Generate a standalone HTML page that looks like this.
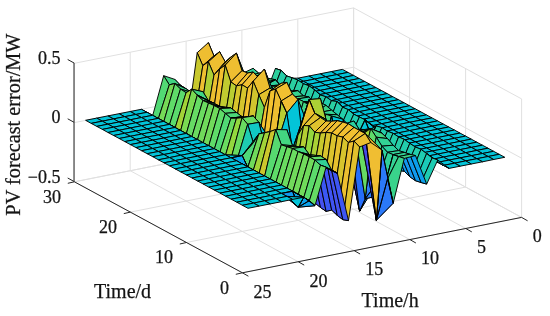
<!DOCTYPE html>
<html><head><meta charset="utf-8"><title>PV forecast error</title>
<style>
html,body{margin:0;padding:0;background:#fff}
body{width:550px;height:316px;overflow:hidden}
svg{display:block}
.g{stroke:#e0e0e0;stroke-width:1;fill:none}
.a{stroke:#262626;stroke-width:1;fill:none}
.s polygon{stroke:#000;stroke-width:0.95;stroke-linejoin:round}
.t text{font-family:"Liberation Serif","Times New Roman",serif;font-size:17px;fill:#141414;stroke:#141414;stroke-width:0.25px}
</style></head><body><svg width="550" height="316" viewBox="0 0 550 316"><g><line x1="521.6" y1="217.4" x2="353.6" y2="126.4" class="g"/><line x1="353.6" y1="126.4" x2="353.6" y2="7.9" class="g"/><line x1="465.8" y1="228.5" x2="297.8" y2="137.5" class="g"/><line x1="297.8" y1="137.5" x2="297.8" y2="19.0" class="g"/><line x1="409.9" y1="239.6" x2="241.9" y2="148.6" class="g"/><line x1="241.9" y1="148.6" x2="241.9" y2="30.1" class="g"/><line x1="354.1" y1="250.6" x2="186.1" y2="159.7" class="g"/><line x1="186.1" y1="159.7" x2="186.1" y2="41.2" class="g"/><line x1="298.2" y1="261.7" x2="130.2" y2="170.7" class="g"/><line x1="130.2" y1="170.7" x2="130.2" y2="52.2" class="g"/><line x1="242.4" y1="272.8" x2="74.4" y2="181.8" class="g"/><line x1="74.4" y1="181.8" x2="74.4" y2="63.3" class="g"/><line x1="521.6" y1="217.4" x2="242.4" y2="272.8" class="g"/><line x1="521.6" y1="217.4" x2="521.6" y2="98.9" class="g"/><line x1="465.6" y1="187.1" x2="186.4" y2="242.5" class="g"/><line x1="465.6" y1="187.1" x2="465.6" y2="68.6" class="g"/><line x1="409.6" y1="156.7" x2="130.4" y2="212.1" class="g"/><line x1="409.6" y1="156.7" x2="409.6" y2="38.2" class="g"/><line x1="353.6" y1="126.4" x2="74.4" y2="181.8" class="g"/><line x1="353.6" y1="126.4" x2="353.6" y2="7.9" class="g"/><line x1="353.6" y1="126.4" x2="74.4" y2="181.8" class="g"/><line x1="521.6" y1="217.4" x2="353.6" y2="126.4" class="g"/><line x1="353.6" y1="67.2" x2="74.4" y2="122.6" class="g"/><line x1="521.6" y1="158.2" x2="353.6" y2="67.2" class="g"/><line x1="353.6" y1="7.9" x2="74.4" y2="63.3" class="g"/><line x1="521.6" y1="98.9" x2="353.6" y2="7.9" class="g"/></g><g class="s"><polygon points="348.0,72.4 336.9,74.6 331.3,71.6 342.4,69.4" fill="#03c4d8"/><polygon points="336.9,74.6 325.7,76.8 320.1,73.8 331.3,71.6" fill="#03c4d8"/><polygon points="325.7,76.8 314.5,79.1 308.9,76.0 320.1,73.8" fill="#03c4d8"/><polygon points="314.5,79.1 303.4,81.3 297.8,78.2 308.9,76.0" fill="#03c4d8"/><polygon points="303.4,81.3 292.2,83.5 286.6,78.1 297.8,78.2" fill="#03c4d8"/><polygon points="292.2,83.5 281.0,70.3 275.4,68.5" fill="#03c4d8" stroke="none"/><polygon points="292.2,83.5 275.4,68.5 286.6,78.1" fill="#03c4d8" stroke="none"/><polygon points="292.2,83.5 281.0,70.3 275.4,68.5 286.6,78.1" fill="none"/><polygon points="281.0,70.3 269.9,99.5 264.3,97.8 275.4,68.5" fill="#2cd09d"/><polygon points="269.9,99.5 258.7,73.2 253.1,68.3 264.3,97.8" fill="#0c9eec"/><polygon points="258.7,73.2 247.5,76.4 241.9,73.7 253.1,68.3" fill="#31d197"/><polygon points="247.5,76.4 236.4,115.1 230.8,113.1 241.9,73.7" fill="#2ed09b"/><polygon points="236.4,115.1 225.2,87.1 219.6,75.1 230.8,113.1" fill="#2981f6"/><polygon points="225.2,87.1 214.0,55.9 208.4,42.6 219.6,75.1" fill="#1bcbb7"/><polygon points="214.0,55.9 202.8,65.7 197.2,52.7 208.4,42.6" fill="#eebe31"/><polygon points="202.8,65.7 191.7,136.6 186.1,133.6 197.2,52.7" fill="#c8c82d"/><polygon points="191.7,136.6 180.5,85.3 174.9,79.4 186.1,133.6" fill="#4054f2"/><polygon points="180.5,85.3 169.3,84.8 163.7,75.7 174.9,79.4" fill="#41d582"/><polygon points="169.3,84.8 158.2,119.2 152.6,115.9 163.7,75.7" fill="#52d974"/><polygon points="158.2,119.2 147.0,112.3 141.4,109.3 152.6,115.9" fill="#08a6e8"/><polygon points="147.0,112.3 135.8,114.5 130.2,111.5 141.4,109.3" fill="#03c4d8"/><polygon points="135.8,114.5 124.7,116.7 119.1,113.7 130.2,111.5" fill="#03c4d8"/><polygon points="124.7,116.7 113.5,118.9 107.9,115.9 119.1,113.7" fill="#03c4d8"/><polygon points="113.5,118.9 102.3,121.2 96.7,118.1 107.9,115.9" fill="#03c4d8"/><polygon points="102.3,121.2 91.2,123.4 85.6,120.3 96.7,118.1" fill="#03c4d8"/><polygon points="353.6,75.4 342.5,77.7 336.9,74.6 348.0,72.4" fill="#03c4d8"/><polygon points="342.5,77.7 331.3,79.9 325.7,76.8 336.9,74.6" fill="#03c4d8"/><polygon points="331.3,79.9 320.1,82.1 314.5,79.1 325.7,76.8" fill="#03c4d8"/><polygon points="320.1,82.1 309.0,84.3 303.4,81.3 314.5,79.1" fill="#03c4d8"/><polygon points="309.0,84.3 297.8,86.5 292.2,83.5 303.4,81.3" fill="#03c4d8"/><polygon points="297.8,86.5 286.6,75.9 281.0,70.3" fill="#03c4d8" stroke="none"/><polygon points="297.8,86.5 281.0,70.3 292.2,83.5" fill="#03c4d8" stroke="none"/><polygon points="297.8,86.5 286.6,75.9 281.0,70.3 292.2,83.5" fill="none"/><polygon points="286.6,75.9 275.5,100.5 269.9,99.5 281.0,70.3" fill="#25cea8"/><polygon points="275.5,100.5 264.3,72.6 258.7,73.2 269.9,99.5" fill="#09a5e9"/><polygon points="264.3,72.6 253.1,77.7 247.5,76.4 258.7,73.2" fill="#43d681"/><polygon points="253.1,77.7 242.0,116.5 236.4,115.1 247.5,76.4" fill="#33d294"/><polygon points="242.0,116.5 230.8,81.4 225.2,87.1 236.4,115.1" fill="#2387f4"/><polygon points="230.8,81.4 219.6,51.8 214.0,55.9 225.2,87.1" fill="#37d38f"/><polygon points="219.6,51.8 208.4,61.8 202.8,65.7 214.0,55.9" fill="#f2c230"/><polygon points="208.4,61.8 197.3,136.6 191.7,136.6 202.8,65.7" fill="#edbf31"/><polygon points="197.3,136.6 186.1,88.8 180.5,85.3 191.7,136.6" fill="#3959f4"/><polygon points="186.1,88.8 174.9,83.6 169.3,84.8" fill="#3fd585" stroke="none"/><polygon points="186.1,88.8 169.3,84.8 180.5,85.3" fill="#3fd585" stroke="none"/><polygon points="186.1,88.8 174.9,83.6 169.3,84.8 180.5,85.3" fill="none"/><polygon points="174.9,83.6 163.8,121.8 158.2,119.2 169.3,84.8" fill="#75da57"/><polygon points="163.8,121.8 152.6,115.3 147.0,112.3 158.2,119.2" fill="#08a8e8"/><polygon points="152.6,115.3 141.4,117.5 135.8,114.5 147.0,112.3" fill="#03c4d8"/><polygon points="141.4,117.5 130.3,119.8 124.7,116.7 135.8,114.5" fill="#03c4d8"/><polygon points="130.3,119.8 119.1,122.0 113.5,118.9 124.7,116.7" fill="#03c4d8"/><polygon points="119.1,122.0 107.9,124.2 102.3,121.2 113.5,118.9" fill="#03c4d8"/><polygon points="107.9,124.2 96.8,126.4 91.2,123.4 102.3,121.2" fill="#03c4d8"/><polygon points="359.2,78.5 348.1,80.7 342.5,77.7 353.6,75.4" fill="#03c4d8"/><polygon points="348.1,80.7 336.9,82.9 331.3,79.9 342.5,77.7" fill="#03c4d8"/><polygon points="336.9,82.9 325.7,85.1 320.1,82.1 331.3,79.9" fill="#03c4d8"/><polygon points="325.7,85.1 314.6,87.3 309.0,84.3 320.1,82.1" fill="#03c4d8"/><polygon points="314.6,87.3 303.4,89.6 297.8,86.5 309.0,84.3" fill="#03c4d8"/><polygon points="303.4,89.6 292.2,77.8 286.6,75.9 297.8,86.5" fill="#03c4d8"/><polygon points="292.2,77.8 281.1,106.6 275.5,100.5 286.6,75.9" fill="#28cfa4"/><polygon points="281.1,106.6 269.9,81.2 264.3,72.6 275.5,100.5" fill="#0f9bed"/><polygon points="269.9,81.2 258.7,76.9 253.1,77.7" fill="#2bd09f" stroke="none"/><polygon points="269.9,81.2 253.1,77.7 264.3,72.6" fill="#2bd09f" stroke="none"/><polygon points="269.9,81.2 258.7,76.9 253.1,77.7 264.3,72.6" fill="none"/><polygon points="258.7,76.9 247.6,118.6 242.0,116.5 253.1,77.7" fill="#48d77d"/><polygon points="247.6,118.6 236.4,93.2 230.8,81.4 242.0,116.5" fill="#208af3"/><polygon points="236.4,93.2 225.2,61.8 219.6,51.8 230.8,81.4" fill="#1bcbb7"/><polygon points="225.2,61.8 214.0,75.0 208.4,61.8 219.6,51.8" fill="#eebe31"/><polygon points="214.0,75.0 202.9,139.1 197.3,136.6 208.4,61.8" fill="#aed035"/><polygon points="202.9,139.1 191.7,92.5 186.1,88.8 197.3,136.6" fill="#385af4"/><polygon points="191.7,92.5 180.5,89.0 174.9,83.6 186.1,88.8" fill="#3bd488"/><polygon points="180.5,89.0 169.4,125.0 163.8,121.8 174.9,83.6" fill="#5fdc69"/><polygon points="169.4,125.0 158.2,118.4 152.6,115.3 163.8,121.8" fill="#08a7e8"/><polygon points="158.2,118.4 147.0,120.6 141.4,117.5 152.6,115.3" fill="#03c4d8"/><polygon points="147.0,120.6 135.9,122.8 130.3,119.8 141.4,117.5" fill="#03c4d8"/><polygon points="135.9,122.8 124.7,125.0 119.1,122.0 130.3,119.8" fill="#03c4d8"/><polygon points="124.7,125.0 113.5,127.2 107.9,124.2 119.1,122.0" fill="#03c4d8"/><polygon points="113.5,127.2 102.4,129.4 96.8,126.4 107.9,124.2" fill="#03c4d8"/><polygon points="364.8,81.5 353.7,83.7 348.1,80.7 359.2,78.5" fill="#03c4d8"/><polygon points="353.7,83.7 342.5,85.9 336.9,82.9 348.1,80.7" fill="#03c4d8"/><polygon points="342.5,85.9 331.3,88.2 325.7,85.1 336.9,82.9" fill="#03c4d8"/><polygon points="331.3,88.2 320.2,90.4 314.6,87.3 325.7,85.1" fill="#03c4d8"/><polygon points="320.2,90.4 309.0,92.6 303.4,89.6 314.6,87.3" fill="#03c4d8"/><polygon points="309.0,92.6 297.8,80.1 292.2,77.8 303.4,89.6" fill="#03c4d8"/><polygon points="297.8,80.1 286.7,108.9 281.1,106.6 292.2,77.8" fill="#2acfa0"/><polygon points="286.7,108.9 275.5,79.7 269.9,81.2 281.1,106.6" fill="#0d9dec"/><polygon points="275.5,79.7 264.3,85.9 258.7,76.9" fill="#3dd486" stroke="none"/><polygon points="275.5,79.7 258.7,76.9 269.9,81.2" fill="#3dd486" stroke="none"/><polygon points="275.5,79.7 264.3,85.9 258.7,76.9 269.9,81.2" fill="none"/><polygon points="264.3,85.9 253.2,121.0 247.6,118.6 258.7,76.9" fill="#2dd09d"/><polygon points="253.2,121.0 242.0,84.6 236.4,93.2 247.6,118.6" fill="#1e8cf3"/><polygon points="242.0,84.6 230.8,57.1 225.2,61.8 236.4,93.2" fill="#47d67e"/><polygon points="230.8,57.1 219.6,69.1 214.0,75.0 225.2,61.8" fill="#f3c22f"/><polygon points="219.6,69.1 208.5,145.6 202.9,139.1 214.0,75.0" fill="#ebbf30"/><polygon points="208.5,145.6 197.3,95.9 191.7,92.5 202.9,139.1" fill="#4054f2"/><polygon points="197.3,95.9 186.1,92.7 180.5,89.0 191.7,92.5" fill="#39d38b"/><polygon points="186.1,92.7 175.0,128.3 169.4,125.0 180.5,89.0" fill="#5bdb6d"/><polygon points="175.0,128.3 163.8,121.4 158.2,118.4 169.4,125.0" fill="#08a6e8"/><polygon points="163.8,121.4 152.6,123.6 147.0,120.6 158.2,118.4" fill="#03c4d8"/><polygon points="152.6,123.6 141.5,125.8 135.9,122.8 147.0,120.6" fill="#03c4d8"/><polygon points="141.5,125.8 130.3,128.0 124.7,125.0 135.9,122.8" fill="#03c4d8"/><polygon points="130.3,128.0 119.1,130.3 113.5,127.2 124.7,125.0" fill="#03c4d8"/><polygon points="119.1,130.3 108.0,132.5 102.4,129.4 113.5,127.2" fill="#03c4d8"/><polygon points="370.4,84.5 359.3,86.8 353.7,83.7 364.8,81.5" fill="#03c4d8"/><polygon points="359.3,86.8 348.1,89.0 342.5,85.9 353.7,83.7" fill="#03c4d8"/><polygon points="348.1,89.0 336.9,91.2 331.3,88.2 342.5,85.9" fill="#03c4d8"/><polygon points="336.9,91.2 325.8,93.4 320.2,90.4 331.3,88.2" fill="#03c4d8"/><polygon points="325.8,93.4 314.6,95.6 309.0,92.6 320.2,90.4" fill="#03c4d8"/><polygon points="314.6,95.6 303.4,83.7 297.8,80.1 309.0,92.6" fill="#03c4d8"/><polygon points="303.4,83.7 292.3,112.7 286.7,108.9 297.8,80.1" fill="#29cfa3"/><polygon points="292.3,112.7 281.1,86.3 275.5,79.7 286.7,108.9" fill="#0f9bed"/><polygon points="281.1,86.3 269.9,85.9 264.3,85.9" fill="#2ed09b" stroke="none"/><polygon points="281.1,86.3 264.3,85.9 275.5,79.7" fill="#2ed09b" stroke="none"/><polygon points="281.1,86.3 269.9,85.9 264.3,85.9 275.5,79.7" fill="none"/><polygon points="269.9,85.9 258.8,123.6 253.2,121.0 264.3,85.9" fill="#37d38d"/><polygon points="258.8,123.6 247.6,82.2 242.0,84.6 253.2,121.0" fill="#1d8df2"/><polygon points="247.6,82.2 236.4,53.1 230.8,57.1 242.0,84.6" fill="#70da5b"/><polygon points="236.4,53.1 225.2,65.2 219.6,69.1 230.8,57.1" fill="#f6c72c"/><polygon points="225.2,65.2 214.1,144.4 208.5,145.6 219.6,69.1" fill="#f2c030"/><polygon points="214.1,144.4 202.9,91.7 197.3,95.9 208.5,145.6" fill="#325ef6"/><polygon points="202.9,91.7 191.7,89.2 186.1,92.7 197.3,95.9" fill="#6adb60"/><polygon points="191.7,89.2 180.6,130.9 175.0,128.3 186.1,92.7" fill="#a2d338"/><polygon points="180.6,130.9 169.4,124.4 163.8,121.4 175.0,128.3" fill="#08a8e8"/><polygon points="169.4,124.4 158.2,126.6 152.6,123.6 163.8,121.4" fill="#03c4d8"/><polygon points="158.2,126.6 147.1,128.9 141.5,125.8 152.6,123.6" fill="#03c4d8"/><polygon points="147.1,128.9 135.9,131.1 130.3,128.0 141.5,125.8" fill="#03c4d8"/><polygon points="135.9,131.1 124.7,133.3 119.1,130.3 130.3,128.0" fill="#03c4d8"/><polygon points="124.7,133.3 113.6,135.5 108.0,132.5 119.1,130.3" fill="#03c4d8"/><polygon points="376.0,87.6 364.9,89.8 359.3,86.8 370.4,84.5" fill="#03c4d8"/><polygon points="364.9,89.8 353.7,92.0 348.1,89.0 359.3,86.8" fill="#03c4d8"/><polygon points="353.7,92.0 342.5,94.2 336.9,91.2 348.1,89.0" fill="#03c4d8"/><polygon points="342.5,94.2 331.4,96.4 325.8,93.4 336.9,91.2" fill="#03c4d8"/><polygon points="331.4,96.4 320.2,98.7 314.6,95.6 325.8,93.4" fill="#03c4d8"/><polygon points="320.2,98.7 309.0,85.8 303.4,83.7 314.6,95.6" fill="#03c4d8"/><polygon points="309.0,85.8 297.9,113.1 292.3,112.7 303.4,83.7" fill="#2bd09f"/><polygon points="297.9,113.1 286.7,84.3 281.1,86.3 292.3,112.7" fill="#09a3ea"/><polygon points="286.7,84.3 275.5,90.2 269.9,85.9" fill="#45d67f" stroke="none"/><polygon points="286.7,84.3 269.9,85.9 281.1,86.3" fill="#45d67f" stroke="none"/><polygon points="286.7,84.3 275.5,90.2 269.9,85.9 281.1,86.3" fill="none"/><polygon points="275.5,90.2 264.4,132.0 258.8,123.6 269.9,85.9" fill="#32d195"/><polygon points="264.4,132.0 253.2,100.8 247.6,82.2" fill="#2d7cf8" stroke="none"/><polygon points="264.4,132.0 247.6,82.2 258.8,123.6" fill="#2d7cf8" stroke="none"/><polygon points="264.4,132.0 253.2,100.8 247.6,82.2 258.8,123.6" fill="none"/><polygon points="253.2,100.8 242.0,70.7 236.4,53.1 247.6,82.2" fill="#1fcdb0"/><polygon points="242.0,70.7 230.8,81.9 225.2,65.2 236.4,53.1" fill="#eebe31"/><polygon points="230.8,81.9 219.7,151.2 214.1,144.4 225.2,65.2" fill="#c0cb30"/><polygon points="219.7,151.2 208.5,100.8 202.9,91.7 214.1,144.4" fill="#3f55f2"/><polygon points="208.5,100.8 197.3,95.2 191.7,89.2 202.9,91.7" fill="#40d584"/><polygon points="197.3,95.2 186.2,134.2 180.6,130.9 191.7,89.2" fill="#7ada52"/><polygon points="186.2,134.2 175.0,127.5 169.4,124.4" fill="#08a7e8" stroke="none"/><polygon points="186.2,134.2 169.4,124.4 180.6,130.9" fill="#08a7e8" stroke="none"/><polygon points="186.2,134.2 175.0,127.5 169.4,124.4 180.6,130.9" fill="none"/><polygon points="175.0,127.5 163.8,129.7 158.2,126.6 169.4,124.4" fill="#03c4d8"/><polygon points="163.8,129.7 152.7,131.9 147.1,128.9 158.2,126.6" fill="#03c4d8"/><polygon points="152.7,131.9 141.5,134.1 135.9,131.1 147.1,128.9" fill="#03c4d8"/><polygon points="141.5,134.1 130.3,136.3 124.7,133.3 135.9,131.1" fill="#03c4d8"/><polygon points="130.3,136.3 119.2,138.5 113.6,135.5 124.7,133.3" fill="#03c4d8"/><polygon points="381.6,90.6 370.5,92.8 364.9,89.8 376.0,87.6" fill="#03c4d8"/><polygon points="370.5,92.8 359.3,95.0 353.7,92.0 364.9,89.8" fill="#03c4d8"/><polygon points="359.3,95.0 348.1,97.3 342.5,94.2 353.7,92.0" fill="#03c4d8"/><polygon points="348.1,97.3 337.0,99.5 331.4,96.4 342.5,94.2" fill="#03c4d8"/><polygon points="337.0,99.5 325.8,101.7 320.2,98.7 331.4,96.4" fill="#03c4d8"/><polygon points="325.8,101.7 314.6,89.9 309.0,85.8 320.2,98.7" fill="#03c4d8"/><polygon points="314.6,89.9 303.5,118.6 297.9,113.1 309.0,85.8" fill="#28cfa3"/><polygon points="303.5,118.6 292.3,92.8 286.7,84.3 297.9,113.1" fill="#0f9bed"/><polygon points="292.3,92.8 281.1,91.6 275.5,90.2 286.7,84.3" fill="#2dd09d"/><polygon points="281.1,91.6 270.0,130.7 264.4,132.0 275.5,90.2" fill="#3ad38a"/><polygon points="270.0,130.7 258.8,104.7 253.2,100.8 264.4,132.0" fill="#208af3"/><polygon points="258.8,104.7 247.6,73.0 242.0,70.7 253.2,100.8" fill="#1dccb4"/><polygon points="247.6,73.0 236.4,85.8 230.8,81.9 242.0,70.7" fill="#f0be32"/><polygon points="236.4,85.8 225.3,150.7 219.7,151.2 230.8,81.9" fill="#b9cd32"/><polygon points="225.3,150.7 214.1,103.4 208.5,100.8 219.7,151.2" fill="#345df5"/><polygon points="214.1,103.4 202.9,100.5 197.3,95.2" fill="#42d582" stroke="none"/><polygon points="214.1,103.4 197.3,95.2 208.5,100.8" fill="#42d582" stroke="none"/><polygon points="214.1,103.4 202.9,100.5 197.3,95.2 208.5,100.8" fill="none"/><polygon points="202.9,100.5 191.8,137.0 186.2,134.2 197.3,95.2" fill="#66db64"/><polygon points="191.8,137.0 180.6,130.5 175.0,127.5 186.2,134.2" fill="#08a7e8"/><polygon points="180.6,130.5 169.4,132.7 163.8,129.7 175.0,127.5" fill="#03c4d8"/><polygon points="169.4,132.7 158.3,134.9 152.7,131.9 163.8,129.7" fill="#03c4d8"/><polygon points="158.3,134.9 147.1,137.1 141.5,134.1 152.7,131.9" fill="#03c4d8"/><polygon points="147.1,137.1 135.9,139.4 130.3,136.3 141.5,134.1" fill="#03c4d8"/><polygon points="135.9,139.4 124.8,141.6 119.2,138.5 130.3,136.3" fill="#03c4d8"/><polygon points="387.2,93.6 376.1,95.9 370.5,92.8 381.6,90.6" fill="#03c4d8"/><polygon points="376.1,95.9 364.9,98.1 359.3,95.0 370.5,92.8" fill="#03c4d8"/><polygon points="364.9,98.1 353.7,100.3 348.1,97.3 359.3,95.0" fill="#03c4d8"/><polygon points="353.7,100.3 342.6,102.5 337.0,99.5 348.1,97.3" fill="#03c4d8"/><polygon points="342.6,102.5 331.4,104.7 325.8,101.7 337.0,99.5" fill="#03c4d8"/><polygon points="331.4,104.7 320.2,94.9 314.6,89.9" fill="#03c4d8" stroke="none"/><polygon points="331.4,104.7 314.6,89.9 325.8,101.7" fill="#03c4d8" stroke="none"/><polygon points="331.4,104.7 320.2,94.9 314.6,89.9 325.8,101.7" fill="none"/><polygon points="320.2,94.9 309.1,120.8 303.5,118.6 314.6,89.9" fill="#22cdac"/><polygon points="309.1,120.8 297.9,90.7 292.3,92.8 303.5,118.6" fill="#0c9eec"/><polygon points="297.9,90.7 286.7,92.7 281.1,91.6" fill="#43d681" stroke="none"/><polygon points="297.9,90.7 281.1,91.6 292.3,92.8" fill="#43d681" stroke="none"/><polygon points="297.9,90.7 286.7,92.7 281.1,91.6 292.3,92.8" fill="none"/><polygon points="286.7,92.7 275.6,136.1 270.0,130.7 281.1,91.6" fill="#45d680"/><polygon points="275.6,136.1 264.4,99.7 258.8,104.7 270.0,130.7" fill="#2882f6"/><polygon points="264.4,99.7 253.2,72.0 247.6,73.0 258.8,104.7" fill="#36d38f"/><polygon points="253.2,72.0 242.0,84.8 236.4,85.8 247.6,73.0" fill="#f2c030"/><polygon points="242.0,84.8 230.9,159.2 225.3,150.7 236.4,85.8" fill="#d7c42d"/><polygon points="230.9,159.2 219.7,106.2 214.1,103.4 225.3,150.7" fill="#4452f1"/><polygon points="219.7,106.2 208.5,103.0 202.9,100.5 214.1,103.4" fill="#43d681"/><polygon points="208.5,103.0 197.4,139.9 191.8,137.0 202.9,100.5" fill="#6adb60"/><polygon points="197.4,139.9 186.2,133.5 180.6,130.5 191.8,137.0" fill="#08a8e7"/><polygon points="186.2,133.5 175.0,135.7 169.4,132.7 180.6,130.5" fill="#03c4d8"/><polygon points="175.0,135.7 163.9,138.0 158.3,134.9 169.4,132.7" fill="#03c4d8"/><polygon points="163.9,138.0 152.7,140.2 147.1,137.1 158.3,134.9" fill="#03c4d8"/><polygon points="152.7,140.2 141.5,142.4 135.9,139.4 147.1,137.1" fill="#03c4d8"/><polygon points="141.5,142.4 130.4,144.6 124.8,141.6 135.9,139.4" fill="#03c4d8"/><polygon points="392.8,96.7 381.7,98.9 376.1,95.9 387.2,93.6" fill="#03c4d8"/><polygon points="381.7,98.9 370.5,101.1 364.9,98.1 376.1,95.9" fill="#03c4d8"/><polygon points="370.5,101.1 359.3,103.3 353.7,100.3 364.9,98.1" fill="#03c4d8"/><polygon points="359.3,103.3 348.2,105.5 342.6,102.5 353.7,100.3" fill="#03c4d8"/><polygon points="348.2,105.5 337.0,107.8 331.4,104.7 342.6,102.5" fill="#03c4d8"/><polygon points="337.0,107.8 325.8,96.7 320.2,94.9 331.4,104.7" fill="#03c4d8"/><polygon points="325.8,96.7 314.7,122.1 309.1,120.8 320.2,94.9" fill="#26cea7"/><polygon points="314.7,122.1 303.5,95.9 297.9,90.7 309.1,120.8" fill="#09a3ea"/><polygon points="303.5,95.9 292.3,96.9 286.7,92.7 297.9,90.7" fill="#37d38e"/><polygon points="292.3,96.9 281.2,136.0 275.6,136.1 286.7,92.7" fill="#3ed485"/><polygon points="281.2,136.0 270.0,106.7 264.4,99.7 275.6,136.1" fill="#1e8cf2"/><polygon points="270.0,106.7 258.8,78.2 253.2,72.0 264.4,99.7" fill="#29cfa2"/><polygon points="258.8,78.2 247.6,88.1 242.0,84.8 253.2,72.0" fill="#f0be32"/><polygon points="247.6,88.1 236.5,162.8 230.9,159.2 242.0,84.8" fill="#d5c42d"/><polygon points="236.5,162.8 225.3,108.0 219.7,106.2 230.9,159.2" fill="#4551f0"/><polygon points="225.3,108.0 214.1,105.5 208.5,103.0 219.7,106.2" fill="#4ad77b"/><polygon points="214.1,105.5 203.0,143.7 197.4,139.9 208.5,103.0" fill="#70da5b"/><polygon points="203.0,143.7 191.8,136.6 186.2,133.5" fill="#08a5e9" stroke="none"/><polygon points="203.0,143.7 186.2,133.5 197.4,139.9" fill="#08a5e9" stroke="none"/><polygon points="203.0,143.7 191.8,136.6 186.2,133.5 197.4,139.9" fill="none"/><polygon points="191.8,136.6 180.6,138.8 175.0,135.7 186.2,133.5" fill="#03c4d8"/><polygon points="180.6,138.8 169.5,141.0 163.9,138.0 175.0,135.7" fill="#03c4d8"/><polygon points="169.5,141.0 158.3,143.2 152.7,140.2 163.9,138.0" fill="#03c4d8"/><polygon points="158.3,143.2 147.1,145.4 141.5,142.4 152.7,140.2" fill="#03c4d8"/><polygon points="147.1,145.4 136.0,147.6 130.4,144.6 141.5,142.4" fill="#03c4d8"/><polygon points="398.4,99.7 387.3,101.9 381.7,98.9 392.8,96.7" fill="#03c4d8"/><polygon points="387.3,101.9 376.1,104.1 370.5,101.1 381.7,98.9" fill="#03c4d8"/><polygon points="376.1,104.1 364.9,106.4 359.3,103.3 370.5,101.1" fill="#03c4d8"/><polygon points="364.9,106.4 353.8,108.6 348.2,105.5 359.3,103.3" fill="#03c4d8"/><polygon points="353.8,108.6 342.6,110.8 337.0,107.8 348.2,105.5" fill="#03c4d8"/><polygon points="342.6,110.8 331.4,100.7 325.8,96.7 337.0,107.8" fill="#03c4d8"/><polygon points="331.4,100.7 320.3,127.9 314.7,122.1 325.8,96.7" fill="#23ceab"/><polygon points="320.3,127.9 309.1,97.0 303.5,95.9 314.7,122.1" fill="#109aed"/><polygon points="309.1,97.0 297.9,98.9 292.3,96.9 303.5,95.9" fill="#42d582"/><polygon points="297.9,98.9 286.8,142.0 281.2,136.0 292.3,96.9" fill="#44d680"/><polygon points="286.8,142.0 275.6,97.6 270.0,106.7 281.2,136.0" fill="#2882f6"/><polygon points="275.6,97.6 264.4,69.1 258.8,78.2 270.0,106.7" fill="#6edb5d"/><polygon points="264.4,69.1 253.2,81.2 247.6,88.1 258.8,78.2" fill="#f5c62d"/><polygon points="253.2,81.2 242.1,165.1 236.5,162.8 247.6,88.1" fill="#f1c031"/><polygon points="242.1,165.1 230.9,108.0 225.3,108.0 236.5,162.8" fill="#4352f1"/><polygon points="230.9,108.0 219.7,108.5 214.1,105.5" fill="#5fdc69" stroke="none"/><polygon points="230.9,108.0 214.1,105.5 225.3,108.0" fill="#5fdc69" stroke="none"/><polygon points="230.9,108.0 219.7,108.5 214.1,105.5 225.3,108.0" fill="none"/><polygon points="219.7,108.5 208.6,146.5 203.0,143.7 214.1,105.5" fill="#70da5b"/><polygon points="208.6,146.5 197.4,139.6 191.8,136.6 203.0,143.7" fill="#08a6e8"/><polygon points="197.4,139.6 186.2,141.8 180.6,138.8 191.8,136.6" fill="#03c4d8"/><polygon points="186.2,141.8 175.1,144.0 169.5,141.0 180.6,138.8" fill="#03c4d8"/><polygon points="175.1,144.0 163.9,146.2 158.3,143.2 169.5,141.0" fill="#03c4d8"/><polygon points="163.9,146.2 152.7,148.5 147.1,145.4 158.3,143.2" fill="#03c4d8"/><polygon points="152.7,148.5 141.6,150.7 136.0,147.6 147.1,145.4" fill="#03c4d8"/><polygon points="404.0,102.7 392.9,105.0 387.3,101.9 398.4,99.7" fill="#03c4d8"/><polygon points="392.9,105.0 381.7,107.2 376.1,104.1 387.3,101.9" fill="#03c4d8"/><polygon points="381.7,107.2 370.5,109.4 364.9,106.4 376.1,104.1" fill="#03c4d8"/><polygon points="370.5,109.4 359.4,111.6 353.8,108.6 364.9,106.4" fill="#03c4d8"/><polygon points="359.4,111.6 348.2,113.8 342.6,110.8 353.8,108.6" fill="#03c4d8"/><polygon points="348.2,113.8 337.0,101.5 331.4,100.7 342.6,110.8" fill="#03c4d8"/><polygon points="337.0,101.5 325.9,131.6 320.3,127.9 331.4,100.7" fill="#2acfa1"/><polygon points="325.9,131.6 314.7,104.9 309.1,97.0 320.3,127.9" fill="#1298ee"/><polygon points="314.7,104.9 303.5,101.5 297.9,98.9 309.1,97.0" fill="#2dd09d"/><polygon points="303.5,101.5 292.4,138.8 286.8,142.0 297.9,98.9" fill="#46d67e"/><polygon points="292.4,138.8 281.2,116.3 275.6,97.6" fill="#1397ee" stroke="none"/><polygon points="292.4,138.8 275.6,97.6 286.8,142.0" fill="#1397ee" stroke="none"/><polygon points="292.4,138.8 281.2,116.3 275.6,97.6 286.8,142.0" fill="none"/><polygon points="281.2,116.3 270.0,88.0 264.4,69.1 275.6,97.6" fill="#1eccb1"/><polygon points="270.0,88.0 258.8,94.7 253.2,81.2 264.4,69.1" fill="#ebbf30"/><polygon points="258.8,94.7 247.7,168.8 242.1,165.1 253.2,81.2" fill="#d1c52d"/><polygon points="247.7,168.8 236.5,112.5 230.9,108.0 242.1,165.1" fill="#4551f0"/><polygon points="236.5,112.5 225.3,113.3 219.7,108.5 230.9,108.0" fill="#55da72"/><polygon points="225.3,113.3 214.2,149.7 208.6,146.5 219.7,108.5" fill="#5fdc69"/><polygon points="214.2,149.7 203.0,142.6 197.4,139.6 208.6,146.5" fill="#08a5e9"/><polygon points="203.0,142.6 191.8,144.8 186.2,141.8 197.4,139.6" fill="#03c4d8"/><polygon points="191.8,144.8 180.7,147.1 175.1,144.0 186.2,141.8" fill="#03c4d8"/><polygon points="180.7,147.1 169.5,149.3 163.9,146.2 175.1,144.0" fill="#03c4d8"/><polygon points="169.5,149.3 158.3,151.5 152.7,148.5 163.9,146.2" fill="#03c4d8"/><polygon points="158.3,151.5 147.2,153.7 141.6,150.7 152.7,148.5" fill="#03c4d8"/><polygon points="409.6,105.8 398.5,108.0 392.9,105.0 404.0,102.7" fill="#03c4d8"/><polygon points="398.5,108.0 387.3,110.2 381.7,107.2 392.9,105.0" fill="#03c4d8"/><polygon points="387.3,110.2 376.1,112.4 370.5,109.4 381.7,107.2" fill="#03c4d8"/><polygon points="376.1,112.4 365.0,114.6 359.4,111.6 370.5,109.4" fill="#03c4d8"/><polygon points="365.0,114.6 353.8,116.9 348.2,113.8 359.4,111.6" fill="#03c4d8"/><polygon points="353.8,116.9 342.6,107.2 337.0,101.5" fill="#03c4d8" stroke="none"/><polygon points="353.8,116.9 337.0,101.5 348.2,113.8" fill="#03c4d8" stroke="none"/><polygon points="353.8,116.9 342.6,107.2 337.0,101.5 348.2,113.8" fill="none"/><polygon points="342.6,107.2 331.5,133.8 325.9,131.6 337.0,101.5" fill="#22cdac"/><polygon points="331.5,133.8 320.3,102.5 314.7,104.9 325.9,131.6" fill="#0f9bed"/><polygon points="320.3,102.5 309.1,105.5 303.5,101.5" fill="#45d67f" stroke="none"/><polygon points="320.3,102.5 303.5,101.5 314.7,104.9" fill="#45d67f" stroke="none"/><polygon points="320.3,102.5 309.1,105.5 303.5,101.5 314.7,104.9" fill="none"/><polygon points="309.1,105.5 298.0,147.5 292.4,138.8 303.5,101.5" fill="#41d583"/><polygon points="298.0,147.5 286.8,122.2 281.2,116.3 292.4,138.8" fill="#2684f5"/><polygon points="286.8,122.2 275.6,93.3 270.0,88.0 281.2,116.3" fill="#16cabd"/><polygon points="275.6,93.3 264.4,107.5 258.8,94.7 270.0,88.0" fill="#e1c12d"/><polygon points="264.4,107.5 253.3,169.8 247.7,168.8 258.8,94.7" fill="#74da58"/><polygon points="253.3,169.8 242.1,116.7 236.5,112.5 247.7,168.8" fill="#4054f2"/><polygon points="242.1,116.7 230.9,118.2 225.3,113.3 236.5,112.5" fill="#4cd879"/><polygon points="230.9,118.2 219.8,152.4 214.2,149.7 225.3,113.3" fill="#51d975"/><polygon points="219.8,152.4 208.6,145.7 203.0,142.6 214.2,149.7" fill="#08a7e8"/><polygon points="208.6,145.7 197.4,147.9 191.8,144.8 203.0,142.6" fill="#03c4d8"/><polygon points="197.4,147.9 186.3,150.1 180.7,147.1 191.8,144.8" fill="#03c4d8"/><polygon points="186.3,150.1 175.1,152.3 169.5,149.3 180.7,147.1" fill="#03c4d8"/><polygon points="175.1,152.3 163.9,154.5 158.3,151.5 169.5,149.3" fill="#03c4d8"/><polygon points="163.9,154.5 152.8,156.7 147.2,153.7 158.3,151.5" fill="#03c4d8"/><polygon points="415.2,108.8 404.1,111.0 398.5,108.0 409.6,105.8" fill="#03c4d8"/><polygon points="404.1,111.0 392.9,113.2 387.3,110.2 398.5,108.0" fill="#03c4d8"/><polygon points="392.9,113.2 381.7,115.5 376.1,112.4 387.3,110.2" fill="#03c4d8"/><polygon points="381.7,115.5 370.6,117.7 365.0,114.6 376.1,112.4" fill="#03c4d8"/><polygon points="370.6,117.7 359.4,119.9 353.8,116.9 365.0,114.6" fill="#03c4d8"/><polygon points="359.4,119.9 348.2,109.6 342.6,107.2 353.8,116.9" fill="#03c4d8"/><polygon points="348.2,109.6 337.1,134.9 331.5,133.8 342.6,107.2" fill="#24ceaa"/><polygon points="337.1,134.9 325.9,105.3 320.3,102.5 331.5,133.8" fill="#0aa1eb"/><polygon points="325.9,105.3 314.7,113.0 309.1,105.5 320.3,102.5" fill="#46d67e"/><polygon points="314.7,113.0 303.6,151.1 298.0,147.5 309.1,105.5" fill="#2dd09c"/><polygon points="303.6,151.1 292.4,109.6 286.8,122.2 298.0,147.5" fill="#2882f6"/><polygon points="292.4,109.6 281.2,83.3 275.6,93.3 286.8,122.2" fill="#56da71"/><polygon points="281.2,83.3 270.0,90.9 264.4,107.5 275.6,93.3" fill="#f3c32f"/><polygon points="270.0,90.9 258.9,175.0 253.3,169.8 264.4,107.5" fill="#f1bf31"/><polygon points="258.9,175.0 247.7,118.4 242.1,116.7 253.3,169.8" fill="#4551f0"/><polygon points="247.7,118.4 236.5,118.2 230.9,118.2" fill="#56da71" stroke="none"/><polygon points="247.7,118.4 230.9,118.2 242.1,116.7" fill="#56da71" stroke="none"/><polygon points="247.7,118.4 236.5,118.2 230.9,118.2 242.1,116.7" fill="none"/><polygon points="236.5,118.2 225.4,155.6 219.8,152.4 230.9,118.2" fill="#6adb60"/><polygon points="225.4,155.6 214.2,148.7 208.6,145.7 219.8,152.4" fill="#08a6e8"/><polygon points="214.2,148.7 203.0,150.9 197.4,147.9 208.6,145.7" fill="#03c4d8"/><polygon points="203.0,150.9 191.9,153.1 186.3,150.1 197.4,147.9" fill="#03c4d8"/><polygon points="191.9,153.1 180.7,155.3 175.1,152.3 186.3,150.1" fill="#03c4d8"/><polygon points="180.7,155.3 169.5,157.6 163.9,154.5 175.1,152.3" fill="#03c4d8"/><polygon points="169.5,157.6 158.4,159.8 152.8,156.7 163.9,154.5" fill="#03c4d8"/><polygon points="420.8,111.8 409.7,114.1 404.1,111.0 415.2,108.8" fill="#03c4d8"/><polygon points="409.7,114.1 398.5,116.3 392.9,113.2 404.1,111.0" fill="#03c4d8"/><polygon points="398.5,116.3 387.3,118.5 381.7,115.5 392.9,113.2" fill="#03c4d8"/><polygon points="387.3,118.5 376.2,120.7 370.6,117.7 381.7,115.5" fill="#03c4d8"/><polygon points="376.2,120.7 365.0,122.9 359.4,119.9 370.6,117.7" fill="#03c4d8"/><polygon points="365.0,122.9 353.8,114.2 348.2,109.6" fill="#03c4d8" stroke="none"/><polygon points="365.0,122.9 348.2,109.6 359.4,119.9" fill="#03c4d8" stroke="none"/><polygon points="365.0,122.9 353.8,114.2 348.2,109.6 359.4,119.9" fill="none"/><polygon points="353.8,114.2 342.7,138.5 337.1,134.9 348.2,109.6" fill="#1fccb1"/><polygon points="342.7,138.5 331.5,110.1 325.9,105.3 337.1,134.9" fill="#0b9feb"/><polygon points="331.5,110.1 320.3,112.4 314.7,113.0 325.9,105.3" fill="#3dd487"/><polygon points="320.3,112.4 309.2,156.1 303.6,151.1 314.7,113.0" fill="#3cd487"/><polygon points="309.2,156.1 298.0,113.2 292.4,109.6 303.6,151.1" fill="#2d7df8"/><polygon points="298.0,113.2 286.8,82.4 281.2,83.3 292.4,109.6" fill="#51d975"/><polygon points="286.8,82.4 275.6,89.0 270.0,90.9 281.2,83.3" fill="#f5c52d"/><polygon points="275.6,89.0 264.5,171.6 258.9,175.0 270.0,90.9" fill="#f3c32f"/><polygon points="264.5,171.6 253.3,116.0 247.7,118.4 258.9,175.0" fill="#315ff6"/><polygon points="253.3,116.0 242.1,117.7 236.5,118.2" fill="#8bd845" stroke="none"/><polygon points="253.3,116.0 236.5,118.2 247.7,118.4" fill="#8bd845" stroke="none"/><polygon points="253.3,116.0 242.1,117.7 236.5,118.2 247.7,118.4" fill="none"/><polygon points="242.1,117.7 231.0,158.7 225.4,155.6 236.5,118.2" fill="#93d73e"/><polygon points="231.0,158.7 219.8,151.7 214.2,148.7 225.4,155.6" fill="#08a6e9"/><polygon points="219.8,151.7 208.6,153.9 203.0,150.9 214.2,148.7" fill="#03c4d8"/><polygon points="208.6,153.9 197.5,156.2 191.9,153.1 203.0,150.9" fill="#03c4d8"/><polygon points="197.5,156.2 186.3,158.4 180.7,155.3 191.9,153.1" fill="#03c4d8"/><polygon points="186.3,158.4 175.1,160.6 169.5,157.6 180.7,155.3" fill="#03c4d8"/><polygon points="175.1,160.6 164.0,162.8 158.4,159.8 169.5,157.6" fill="#03c4d8"/><polygon points="426.4,114.9 415.3,117.1 409.7,114.1 420.8,111.8" fill="#03c4d8"/><polygon points="415.3,117.1 404.1,119.3 398.5,116.3 409.7,114.1" fill="#03c4d8"/><polygon points="404.1,119.3 392.9,121.5 387.3,118.5 398.5,116.3" fill="#03c4d8"/><polygon points="392.9,121.5 381.8,123.7 376.2,120.7 387.3,118.5" fill="#03c4d8"/><polygon points="381.8,123.7 370.6,126.0 365.0,122.9 376.2,120.7" fill="#03c4d8"/><polygon points="370.6,126.0 359.4,117.0 353.8,114.2 365.0,122.9" fill="#03c4d8"/><polygon points="359.4,117.0 348.3,142.2 342.7,138.5 353.8,114.2" fill="#1fcdb0"/><polygon points="348.3,142.2 337.1,114.7 331.5,110.1 342.7,138.5" fill="#0d9dec"/><polygon points="337.1,114.7 325.9,114.3 320.3,112.4 331.5,110.1" fill="#34d292"/><polygon points="325.9,114.3 314.8,157.4 309.2,156.1 320.3,112.4" fill="#42d582"/><polygon points="314.8,157.4 303.6,123.6 298.0,113.2 309.2,156.1" fill="#2882f6"/><polygon points="303.6,123.6 292.4,94.1 286.8,82.4 298.0,113.2" fill="#2dd09c"/><polygon points="292.4,94.1 281.2,101.0 275.6,89.0 286.8,82.4" fill="#f1c031"/><polygon points="281.2,101.0 270.1,177.2 264.5,171.6 275.6,89.0" fill="#edbe31"/><polygon points="270.1,177.2 258.9,122.4 253.3,116.0 264.5,171.6" fill="#3c57f3"/><polygon points="258.9,122.4 247.7,124.3 242.1,117.7 253.3,116.0" fill="#67db63"/><polygon points="247.7,124.3 236.6,161.5 231.0,158.7 242.1,117.7" fill="#6adb60"/><polygon points="236.6,161.5 225.4,154.8 219.8,151.7 231.0,158.7" fill="#08a7e8"/><polygon points="225.4,154.8 214.2,157.0 208.6,153.9 219.8,151.7" fill="#03c4d8"/><polygon points="214.2,157.0 203.1,159.2 197.5,156.2 208.6,153.9" fill="#03c4d8"/><polygon points="203.1,159.2 191.9,161.4 186.3,158.4 197.5,156.2" fill="#03c4d8"/><polygon points="191.9,161.4 180.7,163.6 175.1,160.6 186.3,158.4" fill="#03c4d8"/><polygon points="180.7,163.6 169.6,165.8 164.0,162.8 175.1,160.6" fill="#03c4d8"/><polygon points="432.0,117.9 420.9,120.1 415.3,117.1 426.4,114.9" fill="#03c4d8"/><polygon points="420.9,120.1 409.7,122.3 404.1,119.3 415.3,117.1" fill="#03c4d8"/><polygon points="409.7,122.3 398.5,124.6 392.9,121.5 404.1,119.3" fill="#03c4d8"/><polygon points="398.5,124.6 387.4,126.8 381.8,123.7 392.9,121.5" fill="#03c4d8"/><polygon points="387.4,126.8 376.2,129.0 370.6,126.0 381.8,123.7" fill="#03c4d8"/><polygon points="376.2,129.0 365.0,119.8 359.4,117.0 370.6,126.0" fill="#03c4d8"/><polygon points="365.0,119.8 353.9,143.2 348.3,142.2 359.4,117.0" fill="#20cdaf"/><polygon points="353.9,143.2 342.7,119.2 337.1,114.7 348.3,142.2" fill="#09a4e9"/><polygon points="342.7,119.2 331.5,116.0 325.9,114.3 337.1,114.7" fill="#2fd199"/><polygon points="331.5,116.0 320.4,159.1 314.8,157.4 325.9,114.3" fill="#4ad77b"/><polygon points="320.4,159.1 309.2,128.8 303.6,123.6 314.8,157.4" fill="#2486f5"/><polygon points="309.2,128.8 298.0,99.5 292.4,94.1 303.6,123.6" fill="#26cea6"/><polygon points="298.0,99.5 286.8,113.1 281.2,101.0 292.4,94.1" fill="#f0be32"/><polygon points="286.8,113.1 275.7,148.9 270.1,177.2" fill="#b9cd32" stroke="none"/><polygon points="286.8,113.1 270.1,177.2 281.2,101.0" fill="#b9cd32" stroke="none"/><polygon points="286.8,113.1 275.7,148.9 270.1,177.2 281.2,101.0" fill="none"/><polygon points="275.7,148.9 264.5,145.2 258.9,122.4" fill="#03c4d8" stroke="none"/><polygon points="275.7,148.9 258.9,122.4 270.1,177.2" fill="#03c4d8" stroke="none"/><polygon points="275.7,148.9 264.5,145.2 258.9,122.4 270.1,177.2" fill="none"/><polygon points="264.5,145.2 253.3,142.7 247.7,124.3 258.9,122.4" fill="#11c8c4"/><polygon points="253.3,142.7 242.2,155.6 236.6,161.5 247.7,124.3" fill="#1eccb2"/><polygon points="242.2,155.6 231.0,157.8 225.4,154.8" fill="#03c4d8" stroke="none"/><polygon points="242.2,155.6 225.4,154.8 236.6,161.5" fill="#03c4d8" stroke="none"/><polygon points="242.2,155.6 231.0,157.8 225.4,154.8 236.6,161.5" fill="none"/><polygon points="231.0,157.8 219.8,160.0 214.2,157.0 225.4,154.8" fill="#03c4d8"/><polygon points="219.8,160.0 208.7,162.2 203.1,159.2 214.2,157.0" fill="#03c4d8"/><polygon points="208.7,162.2 197.5,164.4 191.9,161.4 203.1,159.2" fill="#03c4d8"/><polygon points="197.5,164.4 186.3,166.7 180.7,163.6 191.9,161.4" fill="#03c4d8"/><polygon points="186.3,166.7 175.2,168.9 169.6,165.8 180.7,163.6" fill="#03c4d8"/><polygon points="437.6,120.9 426.5,123.2 420.9,120.1 432.0,117.9" fill="#03c4d8"/><polygon points="426.5,123.2 415.3,125.4 409.7,122.3 420.9,120.1" fill="#03c4d8"/><polygon points="415.3,125.4 404.1,127.6 398.5,124.6 409.7,122.3" fill="#03c4d8"/><polygon points="404.1,127.6 393.0,129.8 387.4,126.8 398.5,124.6" fill="#03c4d8"/><polygon points="393.0,129.8 381.8,132.0 376.2,129.0 387.4,126.8" fill="#03c4d8"/><polygon points="381.8,132.0 370.6,134.2 365.0,119.8" fill="#03c4d8" stroke="none"/><polygon points="381.8,132.0 365.0,119.8 376.2,129.0" fill="#03c4d8" stroke="none"/><polygon points="381.8,132.0 370.6,134.2 365.0,119.8 376.2,129.0" fill="none"/><polygon points="370.6,134.2 359.5,136.4 353.9,143.2" fill="#03c4d8" stroke="none"/><polygon points="370.6,134.2 353.9,143.2 365.0,119.8" fill="#03c4d8" stroke="none"/><polygon points="370.6,134.2 359.5,136.4 353.9,143.2 365.0,119.8" fill="none"/><polygon points="359.5,136.4 348.3,138.7 342.7,119.2" fill="#03c4d8" stroke="none"/><polygon points="359.5,136.4 342.7,119.2 353.9,143.2" fill="#03c4d8" stroke="none"/><polygon points="359.5,136.4 348.3,138.7 342.7,119.2 353.9,143.2" fill="none"/><polygon points="348.3,138.7 337.1,140.9 331.5,116.0 342.7,119.2" fill="#03c4d8"/><polygon points="337.1,140.9 326.0,143.1 320.4,159.1" fill="#03c4d8" stroke="none"/><polygon points="337.1,140.9 320.4,159.1 331.5,116.0" fill="#03c4d8" stroke="none"/><polygon points="337.1,140.9 326.0,143.1 320.4,159.1 331.5,116.0" fill="none"/><polygon points="326.0,143.1 314.8,145.3 309.2,128.8" fill="#03c4d8" stroke="none"/><polygon points="326.0,143.1 309.2,128.8 320.4,159.1" fill="#03c4d8" stroke="none"/><polygon points="326.0,143.1 314.8,145.3 309.2,128.8 320.4,159.1" fill="none"/><polygon points="314.8,145.3 303.6,147.5 298.0,99.5 309.2,128.8" fill="#03c4d8"/><polygon points="303.6,147.5 292.4,149.7 286.8,113.1 298.0,99.5" fill="#03c4d8"/><polygon points="292.4,149.7 281.3,182.4 275.7,148.9 286.8,113.1" fill="#03c4d8"/><polygon points="281.3,182.4 270.1,132.3 264.5,145.2" fill="#3a59f3" stroke="none"/><polygon points="281.3,182.4 264.5,145.2 275.7,148.9" fill="#3a59f3" stroke="none"/><polygon points="281.3,182.4 270.1,132.3 264.5,145.2 275.7,148.9" fill="none"/><polygon points="270.1,132.3 258.9,133.9 253.3,142.7 264.5,145.2" fill="#4ad77b"/><polygon points="258.9,133.9 247.8,167.5 242.2,155.6" fill="#4ed878" stroke="none"/><polygon points="258.9,133.9 242.2,155.6 253.3,142.7" fill="#4ed878" stroke="none"/><polygon points="258.9,133.9 247.8,167.5 242.2,155.6 253.3,142.7" fill="none"/><polygon points="247.8,167.5 236.6,160.8 231.0,157.8" fill="#08a7e8" stroke="none"/><polygon points="247.8,167.5 231.0,157.8 242.2,155.6" fill="#08a7e8" stroke="none"/><polygon points="247.8,167.5 236.6,160.8 231.0,157.8 242.2,155.6" fill="none"/><polygon points="236.6,160.8 225.4,163.0 219.8,160.0 231.0,157.8" fill="#03c4d8"/><polygon points="225.4,163.0 214.3,165.3 208.7,162.2 219.8,160.0" fill="#03c4d8"/><polygon points="214.3,165.3 203.1,167.5 197.5,164.4 208.7,162.2" fill="#03c4d8"/><polygon points="203.1,167.5 191.9,169.7 186.3,166.7 197.5,164.4" fill="#03c4d8"/><polygon points="191.9,169.7 180.8,171.9 175.2,168.9 186.3,166.7" fill="#03c4d8"/><polygon points="443.2,124.0 432.1,126.2 426.5,123.2 437.6,120.9" fill="#03c4d8"/><polygon points="432.1,126.2 420.9,128.4 415.3,125.4 426.5,123.2" fill="#03c4d8"/><polygon points="420.9,128.4 409.7,130.6 404.1,127.6 415.3,125.4" fill="#03c4d8"/><polygon points="409.7,130.6 398.6,132.8 393.0,129.8 404.1,127.6" fill="#03c4d8"/><polygon points="398.6,132.8 387.4,135.1 381.8,132.0 393.0,129.8" fill="#03c4d8"/><polygon points="387.4,135.1 376.2,125.9 370.6,134.2" fill="#03c4d8" stroke="none"/><polygon points="387.4,135.1 370.6,134.2 381.8,132.0" fill="#03c4d8" stroke="none"/><polygon points="387.4,135.1 376.2,125.9 370.6,134.2 381.8,132.0" fill="none"/><polygon points="376.2,125.9 365.1,151.7 359.5,136.4" fill="#20cdaf" stroke="none"/><polygon points="376.2,125.9 359.5,136.4 370.6,134.2" fill="#20cdaf" stroke="none"/><polygon points="376.2,125.9 365.1,151.7 359.5,136.4 370.6,134.2" fill="none"/><polygon points="365.1,151.7 353.9,121.0 348.3,138.7" fill="#0e9ced" stroke="none"/><polygon points="365.1,151.7 348.3,138.7 359.5,136.4" fill="#0e9ced" stroke="none"/><polygon points="365.1,151.7 353.9,121.0 348.3,138.7 359.5,136.4" fill="none"/><polygon points="353.9,121.0 342.7,124.7 337.1,140.9 348.3,138.7" fill="#43d681"/><polygon points="342.7,124.7 331.6,193.5 326.0,143.1" fill="#3bd488" stroke="none"/><polygon points="342.7,124.7 326.0,143.1 337.1,140.9" fill="#3bd488" stroke="none"/><polygon points="342.7,124.7 331.6,193.5 326.0,143.1 337.1,140.9" fill="none"/><polygon points="331.6,193.5 320.4,98.6 314.8,145.3" fill="#413ed0" stroke="none"/><polygon points="331.6,193.5 314.8,145.3 326.0,143.1" fill="#413ed0" stroke="none"/><polygon points="331.6,193.5 320.4,98.6 314.8,145.3 326.0,143.1" fill="none"/><polygon points="320.4,98.6 309.2,99.6 303.6,147.5 314.8,145.3" fill="#f2c130"/><polygon points="309.2,99.6 298.0,135.0 292.4,149.7" fill="#f3c22f" stroke="none"/><polygon points="309.2,99.6 292.4,149.7 303.6,147.5" fill="#f3c22f" stroke="none"/><polygon points="309.2,99.6 298.0,135.0 292.4,149.7 303.6,147.5" fill="none"/><polygon points="298.0,135.0 286.9,188.6 281.3,182.4 292.4,149.7" fill="#33d294"/><polygon points="286.9,188.6 275.7,133.7 270.1,132.3 281.3,182.4" fill="#4153f1"/><polygon points="275.7,133.7 264.5,132.8 258.9,133.9" fill="#55da71" stroke="none"/><polygon points="275.7,133.7 258.9,133.9 270.1,132.3" fill="#55da71" stroke="none"/><polygon points="275.7,133.7 264.5,132.8 258.9,133.9 270.1,132.3" fill="none"/><polygon points="264.5,132.8 253.4,170.1 247.8,167.5 258.9,133.9" fill="#70da5b"/><polygon points="253.4,170.1 242.2,163.9 236.6,160.8 247.8,167.5" fill="#08a9e7"/><polygon points="242.2,163.9 231.0,166.1 225.4,163.0 236.6,160.8" fill="#03c4d8"/><polygon points="231.0,166.1 219.9,168.3 214.3,165.3 225.4,163.0" fill="#03c4d8"/><polygon points="219.9,168.3 208.7,170.5 203.1,167.5 214.3,165.3" fill="#03c4d8"/><polygon points="208.7,170.5 197.5,172.7 191.9,169.7 203.1,167.5" fill="#03c4d8"/><polygon points="197.5,172.7 186.4,174.9 180.8,171.9 191.9,169.7" fill="#03c4d8"/><polygon points="448.8,127.0 437.7,129.2 432.1,126.2 443.2,124.0" fill="#03c4d8"/><polygon points="437.7,129.2 426.5,131.4 420.9,128.4 432.1,126.2" fill="#03c4d8"/><polygon points="426.5,131.4 415.3,133.7 409.7,130.6 420.9,128.4" fill="#03c4d8"/><polygon points="415.3,133.7 404.2,135.9 398.6,132.8 409.7,130.6" fill="#03c4d8"/><polygon points="404.2,135.9 393.0,138.1 387.4,135.1 398.6,132.8" fill="#03c4d8"/><polygon points="393.0,138.1 381.8,127.6 376.2,125.9 387.4,135.1" fill="#03c4d8"/><polygon points="381.8,127.6 370.7,155.1 365.1,151.7 376.2,125.9" fill="#24cea9"/><polygon points="370.7,155.1 359.5,129.9 353.9,121.0 365.1,151.7" fill="#0f9bed"/><polygon points="359.5,129.9 348.3,129.4 342.7,124.7 353.9,121.0" fill="#2bd0a0"/><polygon points="348.3,129.4 337.2,170.8 331.6,193.5" fill="#33d294" stroke="none"/><polygon points="348.3,129.4 331.6,193.5 342.7,124.7" fill="#33d294" stroke="none"/><polygon points="348.3,129.4 337.2,170.8 331.6,193.5 342.7,124.7" fill="none"/><polygon points="337.2,170.8 326.0,119.4 320.4,98.6 331.6,193.5" fill="#2c7ef8"/><polygon points="326.0,119.4 314.8,113.3 309.2,99.6 320.4,98.6" fill="#acd035"/><polygon points="314.8,113.3 303.6,125.5 298.0,135.0" fill="#e8bf2e" stroke="none"/><polygon points="314.8,113.3 298.0,135.0 309.2,99.6" fill="#e8bf2e" stroke="none"/><polygon points="314.8,113.3 303.6,125.5 298.0,135.0 309.2,99.6" fill="none"/><polygon points="303.6,125.5 292.5,187.6 286.9,188.6 298.0,135.0" fill="#9dd53a"/><polygon points="292.5,187.6 281.3,135.9 275.7,133.7 286.9,188.6" fill="#375af4"/><polygon points="281.3,135.9 270.1,131.6 264.5,132.8" fill="#5bdb6d" stroke="none"/><polygon points="281.3,135.9 264.5,132.8 275.7,133.7" fill="#5bdb6d" stroke="none"/><polygon points="281.3,135.9 270.1,131.6 264.5,132.8 275.7,133.7" fill="none"/><polygon points="270.1,131.6 259.0,173.7 253.4,170.1 264.5,132.8" fill="#a2d338"/><polygon points="259.0,173.7 247.8,166.9 242.2,163.9" fill="#08a6e8" stroke="none"/><polygon points="259.0,173.7 242.2,163.9 253.4,170.1" fill="#08a6e8" stroke="none"/><polygon points="259.0,173.7 247.8,166.9 242.2,163.9 253.4,170.1" fill="none"/><polygon points="247.8,166.9 236.6,169.1 231.0,166.1 242.2,163.9" fill="#03c4d8"/><polygon points="236.6,169.1 225.5,171.3 219.9,168.3 231.0,166.1" fill="#03c4d8"/><polygon points="225.5,171.3 214.3,173.5 208.7,170.5 219.9,168.3" fill="#03c4d8"/><polygon points="214.3,173.5 203.1,175.8 197.5,172.7 208.7,170.5" fill="#03c4d8"/><polygon points="203.1,175.8 192.0,178.0 186.4,174.9 197.5,172.7" fill="#03c4d8"/><polygon points="454.4,130.0 443.3,132.3 437.7,129.2 448.8,127.0" fill="#03c4d8"/><polygon points="443.3,132.3 432.1,134.5 426.5,131.4 437.7,129.2" fill="#03c4d8"/><polygon points="432.1,134.5 420.9,136.7 415.3,133.7 426.5,131.4" fill="#03c4d8"/><polygon points="420.9,136.7 409.8,138.9 404.2,135.9 415.3,133.7" fill="#03c4d8"/><polygon points="409.8,138.9 398.6,141.1 393.0,138.1 404.2,135.9" fill="#03c4d8"/><polygon points="398.6,141.1 387.4,131.2 381.8,127.6 393.0,138.1" fill="#03c4d8"/><polygon points="387.4,131.2 376.3,156.6 370.7,155.1 381.8,127.6" fill="#23cdab"/><polygon points="376.3,156.6 365.1,129.5 359.5,129.9 370.7,155.1" fill="#0b9feb"/><polygon points="365.1,129.5 353.9,132.3 348.3,129.4" fill="#36d290" stroke="none"/><polygon points="365.1,129.5 348.3,129.4 359.5,129.9" fill="#36d290" stroke="none"/><polygon points="365.1,129.5 353.9,132.3 348.3,129.4 359.5,129.9" fill="none"/><polygon points="353.9,132.3 342.8,170.6 337.2,170.8 348.3,129.4" fill="#33d294"/><polygon points="342.8,170.6 331.6,135.4 326.0,119.4 337.2,170.8" fill="#2288f4"/><polygon points="331.6,135.4 320.4,117.5 314.8,113.3" fill="#3ad38a" stroke="none"/><polygon points="331.6,135.4 314.8,113.3 326.0,119.4" fill="#3ad38a" stroke="none"/><polygon points="331.6,135.4 320.4,117.5 314.8,113.3 326.0,119.4" fill="none"/><polygon points="320.4,117.5 309.2,125.8 303.6,125.5 314.8,113.3" fill="#e1c12d"/><polygon points="309.2,125.8 298.1,195.2 292.5,187.6 303.6,125.5" fill="#b4ce33"/><polygon points="298.1,195.2 286.9,129.8 281.3,135.9 292.5,187.6" fill="#4352f1"/><polygon points="286.9,129.8 275.7,129.5 270.1,131.6 281.3,135.9" fill="#b8cd32"/><polygon points="275.7,129.5 264.6,176.5 259.0,173.7 270.1,131.6" fill="#cbc72d"/><polygon points="264.6,176.5 253.4,169.9 247.8,166.9 259.0,173.7" fill="#08a7e8"/><polygon points="253.4,169.9 242.2,172.1 236.6,169.1 247.8,166.9" fill="#03c4d8"/><polygon points="242.2,172.1 231.1,174.4 225.5,171.3 236.6,169.1" fill="#03c4d8"/><polygon points="231.1,174.4 219.9,176.6 214.3,173.5 225.5,171.3" fill="#03c4d8"/><polygon points="219.9,176.6 208.7,178.8 203.1,175.8 214.3,173.5" fill="#03c4d8"/><polygon points="208.7,178.8 197.6,181.0 192.0,178.0 203.1,175.8" fill="#03c4d8"/><polygon points="460.0,133.1 448.9,135.3 443.3,132.3 454.4,130.0" fill="#03c4d8"/><polygon points="448.9,135.3 437.7,137.5 432.1,134.5 443.3,132.3" fill="#03c4d8"/><polygon points="437.7,137.5 426.5,139.7 420.9,136.7 432.1,134.5" fill="#03c4d8"/><polygon points="426.5,139.7 415.4,141.9 409.8,138.9 420.9,136.7" fill="#03c4d8"/><polygon points="415.4,141.9 404.2,144.1 398.6,141.1 409.8,138.9" fill="#03c4d8"/><polygon points="404.2,144.1 393.0,133.3 387.4,131.2 398.6,141.1" fill="#03c4d8"/><polygon points="393.0,133.3 381.9,159.3 376.3,156.6 387.4,131.2" fill="#25cea7"/><polygon points="381.9,159.3 370.7,128.6 365.1,129.5 376.3,156.6" fill="#0aa0eb"/><polygon points="370.7,128.6 359.5,132.9 353.9,132.3 365.1,129.5" fill="#4cd87a"/><polygon points="359.5,132.9 348.4,176.1 342.8,170.6 353.9,132.3" fill="#40d583"/><polygon points="348.4,176.1 337.2,138.7 331.6,135.4 342.8,170.6" fill="#2a80f7"/><polygon points="337.2,138.7 326.0,121.0 320.4,117.5 331.6,135.4" fill="#39d38c"/><polygon points="326.0,121.0 314.8,132.2 309.2,125.8 320.4,117.5" fill="#dec22d"/><polygon points="314.8,132.2 303.7,194.4 298.1,195.2 309.2,125.8" fill="#94d73e"/><polygon points="303.7,194.4 292.5,145.7 286.9,129.8 298.1,195.2" fill="#3a59f4"/><polygon points="292.5,145.7 281.3,144.8 275.7,129.5 286.9,129.8" fill="#43d681"/><polygon points="281.3,144.8 270.2,179.7 264.6,176.5 275.7,129.5" fill="#56da70"/><polygon points="270.2,179.7 259.0,173.0 253.4,169.9 264.6,176.5" fill="#08a7e8"/><polygon points="259.0,173.0 247.8,175.2 242.2,172.1 253.4,169.9" fill="#03c4d8"/><polygon points="247.8,175.2 236.7,177.4 231.1,174.4 242.2,172.1" fill="#03c4d8"/><polygon points="236.7,177.4 225.5,179.6 219.9,176.6 231.1,174.4" fill="#03c4d8"/><polygon points="225.5,179.6 214.3,181.8 208.7,178.8 219.9,176.6" fill="#03c4d8"/><polygon points="214.3,181.8 203.2,184.0 197.6,181.0 208.7,178.8" fill="#03c4d8"/><polygon points="465.6,136.1 454.5,138.3 448.9,135.3 460.0,133.1" fill="#03c4d8"/><polygon points="454.5,138.3 443.3,140.5 437.7,137.5 448.9,135.3" fill="#03c4d8"/><polygon points="443.3,140.5 432.1,142.8 426.5,139.7 437.7,137.5" fill="#03c4d8"/><polygon points="432.1,142.8 421.0,145.0 415.4,141.9 426.5,139.7" fill="#03c4d8"/><polygon points="421.0,145.0 409.8,147.2 404.2,144.1 415.4,141.9" fill="#03c4d8"/><polygon points="409.8,147.2 398.6,136.9 393.0,133.3 404.2,144.1" fill="#03c4d8"/><polygon points="398.6,136.9 387.5,165.7 381.9,159.3 393.0,133.3" fill="#24ceaa"/><polygon points="387.5,165.7 376.3,131.3 370.7,128.6 381.9,159.3" fill="#1496ef"/><polygon points="376.3,131.3 365.1,132.3 359.5,132.9" fill="#4ed878" stroke="none"/><polygon points="376.3,131.3 359.5,132.9 370.7,128.6" fill="#4ed878" stroke="none"/><polygon points="376.3,131.3 365.1,132.3 359.5,132.9 370.7,128.6" fill="none"/><polygon points="365.1,132.3 354.0,177.3 348.4,176.1 359.5,132.9" fill="#56da70"/><polygon points="354.0,177.3 342.8,137.2 337.2,138.7 348.4,176.1" fill="#2486f5"/><polygon points="342.8,137.2 331.6,121.2 326.0,121.0 337.2,138.7" fill="#53d973"/><polygon points="331.6,121.2 320.4,133.1 314.8,132.2 326.0,121.0" fill="#ebbf30"/><polygon points="320.4,133.1 309.3,195.9 303.7,194.4 314.8,132.2" fill="#aad136"/><polygon points="309.3,195.9 298.1,146.6 292.5,145.7 303.7,194.4" fill="#315ff6"/><polygon points="298.1,146.6 286.9,146.7 281.3,144.8 292.5,145.7" fill="#4fd877"/><polygon points="286.9,146.7 275.8,182.8 270.2,179.7 281.3,144.8" fill="#5fdc69"/><polygon points="275.8,182.8 264.6,176.0 259.0,173.0 270.2,179.7" fill="#08a6e8"/><polygon points="264.6,176.0 253.4,178.2 247.8,175.2 259.0,173.0" fill="#03c4d8"/><polygon points="253.4,178.2 242.3,180.4 236.7,177.4 247.8,175.2" fill="#03c4d8"/><polygon points="242.3,180.4 231.1,182.6 225.5,179.6 236.7,177.4" fill="#03c4d8"/><polygon points="231.1,182.6 219.9,184.9 214.3,181.8 225.5,179.6" fill="#03c4d8"/><polygon points="219.9,184.9 208.8,187.1 203.2,184.0 214.3,181.8" fill="#03c4d8"/><polygon points="471.2,139.1 460.1,141.4 454.5,138.3 465.6,136.1" fill="#03c4d8"/><polygon points="460.1,141.4 448.9,143.6 443.3,140.5 454.5,138.3" fill="#03c4d8"/><polygon points="448.9,143.6 437.7,145.8 432.1,142.8 443.3,140.5" fill="#03c4d8"/><polygon points="437.7,145.8 426.6,148.0 421.0,145.0 432.1,142.8" fill="#03c4d8"/><polygon points="426.6,148.0 415.4,150.2 409.8,147.2 421.0,145.0" fill="#03c4d8"/><polygon points="415.4,150.2 404.2,139.3 398.6,136.9 409.8,147.2" fill="#03c4d8"/><polygon points="404.2,139.3 393.1,165.8 387.5,165.7 398.6,136.9" fill="#26cea7"/><polygon points="393.1,165.8 381.9,133.2 376.3,131.3 387.5,165.7" fill="#0b9feb"/><polygon points="381.9,133.2 370.7,128.6 365.1,132.3" fill="#56da70" stroke="none"/><polygon points="381.9,133.2 365.1,132.3 376.3,131.3" fill="#56da70" stroke="none"/><polygon points="381.9,133.2 370.7,128.6 365.1,132.3 376.3,131.3" fill="none"/><polygon points="370.7,128.6 359.6,176.6 354.0,177.3 365.1,132.3" fill="#9ed53a"/><polygon points="359.6,176.6 348.4,135.3 342.8,137.2 354.0,177.3" fill="#1892f0"/><polygon points="348.4,135.3 337.2,120.7 331.6,121.2 342.8,137.2" fill="#80d94e"/><polygon points="337.2,120.7 326.0,132.4 320.4,133.1 331.6,121.2" fill="#f0be32"/><polygon points="326.0,132.4 314.9,202.9 309.3,195.9 320.4,133.1" fill="#c8c82d"/><polygon points="314.9,202.9 303.7,146.9 298.1,146.6 309.3,195.9" fill="#3f55f2"/><polygon points="303.7,146.9 292.5,148.5 286.9,146.7 298.1,146.6" fill="#65db64"/><polygon points="292.5,148.5 281.4,185.5 275.8,182.8 286.9,146.7" fill="#6adb60"/><polygon points="281.4,185.5 270.2,179.0 264.6,176.0 275.8,182.8" fill="#08a8e8"/><polygon points="270.2,179.0 259.0,181.2 253.4,178.2 264.6,176.0" fill="#03c4d8"/><polygon points="259.0,181.2 247.9,183.5 242.3,180.4 253.4,178.2" fill="#03c4d8"/><polygon points="247.9,183.5 236.7,185.7 231.1,182.6 242.3,180.4" fill="#03c4d8"/><polygon points="236.7,185.7 225.5,187.9 219.9,184.9 231.1,182.6" fill="#03c4d8"/><polygon points="225.5,187.9 214.4,190.1 208.8,187.1 219.9,184.9" fill="#03c4d8"/><polygon points="476.8,142.2 465.7,144.4 460.1,141.4 471.2,139.1" fill="#03c4d8"/><polygon points="465.7,144.4 454.5,146.6 448.9,143.6 460.1,141.4" fill="#03c4d8"/><polygon points="454.5,146.6 443.3,148.8 437.7,145.8 448.9,143.6" fill="#03c4d8"/><polygon points="443.3,148.8 432.2,151.0 426.6,148.0 437.7,145.8" fill="#03c4d8"/><polygon points="432.2,151.0 421.0,153.2 415.4,150.2 426.6,148.0" fill="#03c4d8"/><polygon points="421.0,153.2 409.8,143.4 404.2,139.3 415.4,150.2" fill="#03c4d8"/><polygon points="409.8,143.4 398.7,170.5 393.1,165.8 404.2,139.3" fill="#22cdab"/><polygon points="398.7,170.5 387.5,138.6 381.9,133.2 393.1,165.8" fill="#109aed"/><polygon points="387.5,138.6 376.3,137.2 370.7,128.6 381.9,133.2" fill="#47d67e"/><polygon points="376.3,137.2 365.2,186.2 359.6,176.6 370.7,128.6" fill="#5fdc69"/><polygon points="365.2,186.2 354.0,184.3 348.4,135.3" fill="#2d7df8" stroke="none"/><polygon points="365.2,186.2 348.4,135.3 359.6,176.6" fill="#2d7df8" stroke="none"/><polygon points="365.2,186.2 354.0,184.3 348.4,135.3 359.6,176.6" fill="none"/><polygon points="354.0,184.3 342.8,122.0 337.2,120.7" fill="#208af3" stroke="none"/><polygon points="354.0,184.3 337.2,120.7 348.4,135.3" fill="#208af3" stroke="none"/><polygon points="354.0,184.3 342.8,122.0 337.2,120.7 348.4,135.3" fill="none"/><polygon points="342.8,122.0 331.6,133.0 326.0,132.4 337.2,120.7" fill="#f1c031"/><polygon points="331.6,133.0 320.5,207.5 314.9,202.9 326.0,132.4" fill="#d9c32d"/><polygon points="320.5,207.5 309.3,154.6 303.7,146.9 314.9,202.9" fill="#4352f1"/><polygon points="309.3,154.6 298.1,151.6 292.5,148.5 303.7,146.9" fill="#44d680"/><polygon points="298.1,151.6 287.0,188.6 281.4,185.5 292.5,148.5" fill="#6adb60"/><polygon points="287.0,188.6 275.8,182.1 270.2,179.0 281.4,185.5" fill="#08a7e8"/><polygon points="275.8,182.1 264.6,184.3 259.0,181.2 270.2,179.0" fill="#03c4d8"/><polygon points="264.6,184.3 253.5,186.5 247.9,183.5 259.0,181.2" fill="#03c4d8"/><polygon points="253.5,186.5 242.3,188.7 236.7,185.7 247.9,183.5" fill="#03c4d8"/><polygon points="242.3,188.7 231.1,190.9 225.5,187.9 236.7,185.7" fill="#03c4d8"/><polygon points="231.1,190.9 220.0,193.1 214.4,190.1 225.5,187.9" fill="#03c4d8"/><polygon points="482.4,145.2 471.3,147.4 465.7,144.4 476.8,142.2" fill="#03c4d8"/><polygon points="471.3,147.4 460.1,149.6 454.5,146.6 465.7,144.4" fill="#03c4d8"/><polygon points="460.1,149.6 448.9,151.8 443.3,148.8 454.5,146.6" fill="#03c4d8"/><polygon points="448.9,151.8 437.8,154.1 432.2,151.0 443.3,148.8" fill="#03c4d8"/><polygon points="437.8,154.1 426.6,156.3 421.0,153.2 432.2,151.0" fill="#03c4d8"/><polygon points="426.6,156.3 415.4,147.0 409.8,143.4 421.0,153.2" fill="#03c4d8"/><polygon points="415.4,147.0 404.3,171.2 398.7,170.5 409.8,143.4" fill="#21cdae"/><polygon points="404.3,171.2 393.1,145.2 387.5,138.6 398.7,170.5" fill="#0aa1ea"/><polygon points="393.1,145.2 381.9,146.2 376.3,137.2 387.5,138.6" fill="#33d294"/><polygon points="381.9,146.2 370.8,187.1 365.2,186.2 376.3,137.2" fill="#3ad38a"/><polygon points="370.8,187.1 359.6,211.1 354.0,184.3" fill="#2684f5" stroke="none"/><polygon points="370.8,187.1 354.0,184.3 365.2,186.2" fill="#2684f5" stroke="none"/><polygon points="370.8,187.1 359.6,211.1 354.0,184.3 365.2,186.2" fill="none"/><polygon points="359.6,211.1 348.4,123.8 342.8,122.0 354.0,184.3" fill="#444ae5"/><polygon points="348.4,123.8 337.2,135.8 331.6,133.0 342.8,122.0" fill="#f2c030"/><polygon points="337.2,135.8 326.1,211.3 320.5,207.5 331.6,133.0" fill="#dbc32d"/><polygon points="326.1,211.3 314.9,156.9 309.3,154.6 320.5,207.5" fill="#4551f0"/><polygon points="314.9,156.9 303.7,153.9 298.1,151.6 309.3,154.6" fill="#48d77d"/><polygon points="303.7,153.9 292.6,192.2 287.0,188.6 298.1,151.6" fill="#71da5b"/><polygon points="292.6,192.2 281.4,185.1 275.8,182.1" fill="#08a6e9" stroke="none"/><polygon points="292.6,192.2 275.8,182.1 287.0,188.6" fill="#08a6e9" stroke="none"/><polygon points="292.6,192.2 281.4,185.1 275.8,182.1 287.0,188.6" fill="none"/><polygon points="281.4,185.1 270.2,187.3 264.6,184.3 275.8,182.1" fill="#03c4d8"/><polygon points="270.2,187.3 259.1,189.5 253.5,186.5 264.6,184.3" fill="#03c4d8"/><polygon points="259.1,189.5 247.9,191.7 242.3,188.7 253.5,186.5" fill="#03c4d8"/><polygon points="247.9,191.7 236.7,194.0 231.1,190.9 242.3,188.7" fill="#03c4d8"/><polygon points="236.7,194.0 225.6,196.2 220.0,193.1 231.1,190.9" fill="#03c4d8"/><polygon points="488.0,148.2 476.9,150.4 471.3,147.4 482.4,145.2" fill="#03c4d8"/><polygon points="476.9,150.4 465.7,152.7 460.1,149.6 471.3,147.4" fill="#03c4d8"/><polygon points="465.7,152.7 454.5,154.9 448.9,151.8 460.1,149.6" fill="#03c4d8"/><polygon points="454.5,154.9 443.4,157.1 437.8,154.1 448.9,151.8" fill="#03c4d8"/><polygon points="443.4,157.1 432.2,159.3 426.6,156.3 437.8,154.1" fill="#03c4d8"/><polygon points="432.2,159.3 421.0,149.3 415.4,147.0 426.6,156.3" fill="#03c4d8"/><polygon points="421.0,149.3 409.9,176.8 404.3,171.2 415.4,147.0" fill="#23ceab"/><polygon points="409.9,176.8 398.7,150.6 393.1,145.2 404.3,171.2" fill="#1199ee"/><polygon points="398.7,150.6 387.5,152.3 381.9,146.2 393.1,145.2" fill="#2cd09e"/><polygon points="387.5,152.3 376.4,183.9 370.8,187.1 381.9,146.2" fill="#2ed09c"/><polygon points="376.4,183.9 365.2,198.7 359.6,211.1" fill="#1298ee" stroke="none"/><polygon points="376.4,183.9 359.6,211.1 370.8,187.1" fill="#1298ee" stroke="none"/><polygon points="376.4,183.9 365.2,198.7 359.6,211.1 370.8,187.1" fill="none"/><polygon points="365.2,198.7 354.0,127.4 348.4,123.8 359.6,211.1" fill="#256efa"/><polygon points="354.0,127.4 342.8,137.1 337.2,135.8 348.4,123.8" fill="#f1c031"/><polygon points="342.8,137.1 331.7,210.1 326.1,211.3 337.2,135.8" fill="#e6c02e"/><polygon points="331.7,210.1 320.5,156.0 314.9,156.9 326.1,211.3" fill="#3b58f3"/><polygon points="320.5,156.0 309.3,156.9 303.7,153.9" fill="#65db64" stroke="none"/><polygon points="320.5,156.0 303.7,153.9 314.9,156.9" fill="#65db64" stroke="none"/><polygon points="320.5,156.0 309.3,156.9 303.7,153.9 314.9,156.9" fill="none"/><polygon points="309.3,156.9 298.2,194.9 292.6,192.2 303.7,153.9" fill="#71da5b"/><polygon points="298.2,194.9 287.0,188.1 281.4,185.1 292.6,192.2" fill="#08a7e8"/><polygon points="287.0,188.1 275.8,190.3 270.2,187.3 281.4,185.1" fill="#03c4d8"/><polygon points="275.8,190.3 264.7,192.6 259.1,189.5 270.2,187.3" fill="#03c4d8"/><polygon points="264.7,192.6 253.5,194.8 247.9,191.7 259.1,189.5" fill="#03c4d8"/><polygon points="253.5,194.8 242.3,197.0 236.7,194.0 247.9,191.7" fill="#03c4d8"/><polygon points="242.3,197.0 231.2,199.2 225.6,196.2 236.7,194.0" fill="#03c4d8"/><polygon points="493.6,151.3 482.5,153.5 476.9,150.4 488.0,148.2" fill="#03c4d8"/><polygon points="482.5,153.5 471.3,155.7 465.7,152.7 476.9,150.4" fill="#03c4d8"/><polygon points="471.3,155.7 460.1,157.9 454.5,154.9 465.7,152.7" fill="#03c4d8"/><polygon points="460.1,157.9 449.0,160.1 443.4,157.1 454.5,154.9" fill="#03c4d8"/><polygon points="449.0,160.1 437.8,162.3 432.2,159.3 443.4,157.1" fill="#03c4d8"/><polygon points="437.8,162.3 426.6,153.6 421.0,149.3 432.2,159.3" fill="#03c4d8"/><polygon points="426.6,153.6 415.5,180.7 409.9,176.8 421.0,149.3" fill="#1fccb1"/><polygon points="415.5,180.7 404.3,152.4 398.7,150.6 409.9,176.8" fill="#1496ef"/><polygon points="404.3,152.4 393.1,154.6 387.5,152.3 398.7,150.6" fill="#30d198"/><polygon points="393.1,154.6 382.0,195.1 376.4,183.9 387.5,152.3" fill="#30d198"/><polygon points="382.0,195.1 370.8,150.0 365.2,198.7" fill="#2c7ef8" stroke="none"/><polygon points="382.0,195.1 365.2,198.7 376.4,183.9" fill="#2c7ef8" stroke="none"/><polygon points="382.0,195.1 370.8,150.0 365.2,198.7 376.4,183.9" fill="none"/><polygon points="370.8,150.0 359.6,130.5 354.0,127.4 365.2,198.7" fill="#66db63"/><polygon points="359.6,130.5 348.4,142.5 342.8,137.1 354.0,127.4" fill="#f1c031"/><polygon points="348.4,142.5 337.3,215.4 331.7,210.1 342.8,137.1" fill="#d7c42d"/><polygon points="337.3,215.4 326.1,159.4 320.5,156.0 331.7,210.1" fill="#4054f2"/><polygon points="326.1,159.4 314.9,160.1 309.3,156.9 320.5,156.0" fill="#62dc67"/><polygon points="314.9,160.1 303.8,197.6 298.2,194.9 309.3,156.9" fill="#70da5b"/><polygon points="303.8,197.6 292.6,191.2 287.0,188.1 298.2,194.9" fill="#08a8e8"/><polygon points="292.6,191.2 281.4,193.4 275.8,190.3 287.0,188.1" fill="#03c4d8"/><polygon points="281.4,193.4 270.3,195.6 264.7,192.6 275.8,190.3" fill="#03c4d8"/><polygon points="270.3,195.6 259.1,197.8 253.5,194.8 264.7,192.6" fill="#03c4d8"/><polygon points="259.1,197.8 247.9,200.0 242.3,197.0 253.5,194.8" fill="#03c4d8"/><polygon points="247.9,200.0 236.8,202.2 231.2,199.2 242.3,197.0" fill="#03c4d8"/><polygon points="499.2,154.3 488.1,156.5 482.5,153.5 493.6,151.3" fill="#03c4d8"/><polygon points="488.1,156.5 476.9,158.7 471.3,155.7 482.5,153.5" fill="#03c4d8"/><polygon points="476.9,158.7 465.7,160.9 460.1,157.9 471.3,155.7" fill="#03c4d8"/><polygon points="465.7,160.9 454.6,163.2 449.0,160.1 460.1,157.9" fill="#03c4d8"/><polygon points="454.6,163.2 443.4,165.4 437.8,162.3 449.0,160.1" fill="#03c4d8"/><polygon points="443.4,165.4 432.2,157.9 426.6,153.6" fill="#03c4d8" stroke="none"/><polygon points="443.4,165.4 426.6,153.6 437.8,162.3" fill="#03c4d8" stroke="none"/><polygon points="443.4,165.4 432.2,157.9 426.6,153.6 437.8,162.3" fill="none"/><polygon points="432.2,157.9 421.1,182.5 415.5,180.7 426.6,153.6" fill="#1bcbb7"/><polygon points="421.1,182.5 409.9,154.3 404.3,152.4 415.5,180.7" fill="#109aed"/><polygon points="409.9,154.3 398.7,156.5 393.1,154.6 404.3,152.4" fill="#33d294"/><polygon points="398.7,156.5 387.6,178.8 382.0,195.1" fill="#33d294" stroke="none"/><polygon points="398.7,156.5 382.0,195.1 393.1,154.6" fill="#33d294" stroke="none"/><polygon points="398.7,156.5 387.6,178.8 382.0,195.1 393.1,154.6" fill="none"/><polygon points="387.6,178.8 376.4,220.2 370.8,150.0" fill="#01bede" stroke="none"/><polygon points="387.6,178.8 370.8,150.0 382.0,195.1" fill="#01bede" stroke="none"/><polygon points="387.6,178.8 376.4,220.2 370.8,150.0 382.0,195.1" fill="none"/><polygon points="376.4,220.2 365.2,133.5 359.6,130.5" fill="#444ae5" stroke="none"/><polygon points="376.4,220.2 359.6,130.5 370.8,150.0" fill="#444ae5" stroke="none"/><polygon points="376.4,220.2 365.2,133.5 359.6,130.5 370.8,150.0" fill="none"/><polygon points="365.2,133.5 354.0,141.0 348.4,142.5 359.6,130.5" fill="#f1c031"/><polygon points="354.0,141.0 342.9,219.7 337.3,215.4 348.4,142.5" fill="#ecbf30"/><polygon points="342.9,219.7 331.7,170.4 326.1,159.4 337.3,215.4" fill="#4352f1"/><polygon points="331.7,170.4 320.5,165.2 314.9,160.1 326.1,159.4" fill="#31d196"/><polygon points="320.5,165.2 309.4,200.6 303.8,197.6 314.9,160.1" fill="#5cdb6b"/><polygon points="309.4,200.6 298.2,207.2 292.6,191.2" fill="#08a8e8" stroke="none"/><polygon points="309.4,200.6 292.6,191.2 303.8,197.6" fill="#08a8e8" stroke="none"/><polygon points="309.4,200.6 298.2,207.2 292.6,191.2 303.8,197.6" fill="none"/><polygon points="298.2,207.2 287.0,196.4 281.4,193.4" fill="#1199ed" stroke="none"/><polygon points="298.2,207.2 281.4,193.4 292.6,191.2" fill="#1199ed" stroke="none"/><polygon points="298.2,207.2 287.0,196.4 281.4,193.4 292.6,191.2" fill="none"/><polygon points="287.0,196.4 275.9,198.6 270.3,195.6 281.4,193.4" fill="#03c4d8"/><polygon points="275.9,198.6 264.7,200.8 259.1,197.8 270.3,195.6" fill="#03c4d8"/><polygon points="264.7,200.8 253.5,203.1 247.9,200.0 259.1,197.8" fill="#03c4d8"/><polygon points="253.5,203.1 242.4,205.3 236.8,202.2 247.9,200.0" fill="#03c4d8"/><polygon points="504.8,157.3 493.7,159.5 488.1,156.5 499.2,154.3" fill="#03c4d8"/><polygon points="493.7,159.5 482.5,161.8 476.9,158.7 488.1,156.5" fill="#03c4d8"/><polygon points="482.5,161.8 471.3,164.0 465.7,160.9 476.9,158.7" fill="#03c4d8"/><polygon points="471.3,164.0 460.2,166.2 454.6,163.2 465.7,160.9" fill="#03c4d8"/><polygon points="460.2,166.2 449.0,168.4 443.4,165.4 454.6,163.2" fill="#03c4d8"/><polygon points="449.0,168.4 437.8,160.0 432.2,157.9 443.4,165.4" fill="#03c4d8"/><polygon points="437.8,160.0 426.7,184.1 421.1,182.5 432.2,157.9" fill="#1eccb2"/><polygon points="426.7,184.1 415.5,155.6 409.9,154.3 421.1,182.5" fill="#0b9feb"/><polygon points="415.5,155.6 404.3,158.4 398.7,156.5 409.9,154.3" fill="#3cd487"/><polygon points="404.3,158.4 393.2,203.2 387.6,178.8 398.7,156.5" fill="#39d38b"/><polygon points="393.2,203.2 382.0,150.1 376.4,220.2" fill="#2b79f8" stroke="none"/><polygon points="393.2,203.2 376.4,220.2 387.6,178.8" fill="#2b79f8" stroke="none"/><polygon points="393.2,203.2 382.0,150.1 376.4,220.2 387.6,178.8" fill="none"/><polygon points="382.0,150.1 370.8,142.5 365.2,133.5" fill="#f0be32" stroke="none"/><polygon points="382.0,150.1 365.2,133.5 376.4,220.2" fill="#f0be32" stroke="none"/><polygon points="382.0,150.1 370.8,142.5 365.2,133.5 376.4,220.2" fill="none"/><polygon points="370.8,142.5 359.6,147.0 354.0,141.0 365.2,133.5" fill="#ebbf30"/><polygon points="359.6,147.0 348.5,220.6 342.9,219.7 354.0,141.0" fill="#e1c12d"/><polygon points="348.5,220.6 337.3,173.1 331.7,170.4 342.9,219.7" fill="#3e56f2"/><polygon points="337.3,173.1 326.1,167.2 320.5,165.2" fill="#32d295" stroke="none"/><polygon points="337.3,173.1 320.5,165.2 331.7,170.4" fill="#32d295" stroke="none"/><polygon points="337.3,173.1 326.1,167.2 320.5,165.2 331.7,170.4" fill="none"/><polygon points="326.1,167.2 315.0,205.7 309.4,200.6 320.5,165.2" fill="#66db64"/><polygon points="315.0,205.7 303.8,197.2 298.2,207.2" fill="#0aa1eb" stroke="none"/><polygon points="315.0,205.7 298.2,207.2 309.4,200.6" fill="#0aa1eb" stroke="none"/><polygon points="315.0,205.7 303.8,197.2 298.2,207.2 309.4,200.6" fill="none"/><polygon points="303.8,197.2 292.6,199.4 287.0,196.4" fill="#03c4d8" stroke="none"/><polygon points="303.8,197.2 287.0,196.4 298.2,207.2" fill="#03c4d8" stroke="none"/><polygon points="303.8,197.2 292.6,199.4 287.0,196.4 298.2,207.2" fill="none"/><polygon points="292.6,199.4 281.5,201.7 275.9,198.6 287.0,196.4" fill="#03c4d8"/><polygon points="281.5,201.7 270.3,203.9 264.7,200.8 275.9,198.6" fill="#03c4d8"/><polygon points="270.3,203.9 259.1,206.1 253.5,203.1 264.7,200.8" fill="#03c4d8"/><polygon points="259.1,206.1 248.0,208.3 242.4,205.3 253.5,203.1" fill="#03c4d8"/></g><g><line x1="74.0" y1="181.8" x2="74.0" y2="62.9" class="a"/><line x1="74.4" y1="181.8" x2="242.4" y2="272.8" class="a"/><line x1="242.4" y1="272.8" x2="521.6" y2="217.4" class="a"/><line x1="74.1" y1="181.5" x2="67.7" y2="178.0" class="a"/><line x1="74.1" y1="122.3" x2="67.7" y2="118.8" class="a"/><line x1="74.1" y1="63.0" x2="67.7" y2="59.5" class="a"/><line x1="242.4" y1="272.8" x2="235.8" y2="274.3" class="a"/><line x1="186.4" y1="242.5" x2="179.8" y2="244.0" class="a"/><line x1="130.4" y1="212.1" x2="123.8" y2="213.6" class="a"/><line x1="74.4" y1="181.8" x2="67.8" y2="183.3" class="a"/><line x1="521.6" y1="217.4" x2="527.6" y2="220.8" class="a"/><line x1="465.8" y1="228.5" x2="471.8" y2="231.9" class="a"/><line x1="409.9" y1="239.6" x2="415.9" y2="243.0" class="a"/><line x1="354.1" y1="250.6" x2="360.1" y2="254.0" class="a"/><line x1="298.2" y1="261.7" x2="304.2" y2="265.1" class="a"/><line x1="242.4" y1="272.8" x2="248.4" y2="276.2" class="a"/></g><g class="t"><text x="60.4" y="64.0" text-anchor="end" style="font-size:18px">0.5</text><text x="60.4" y="123.3" text-anchor="end" style="font-size:18px">0</text><text x="60.4" y="182.5" text-anchor="end" style="font-size:18px">−0.5</text><text x="229.0" y="293.7" text-anchor="end" style="font-size:18px">0</text><text x="173.0" y="263.4" text-anchor="end" style="font-size:18px">10</text><text x="117.0" y="233.0" text-anchor="end" style="font-size:18px">20</text><text x="61.0" y="202.7" text-anchor="end" style="font-size:18px">30</text><text x="532.8" y="242.2" text-anchor="start" style="font-size:18px">0</text><text x="477.0" y="253.3" text-anchor="start" style="font-size:18px">5</text><text x="421.1" y="264.4" text-anchor="start" style="font-size:18px">10</text><text x="365.3" y="275.4" text-anchor="start" style="font-size:18px">15</text><text x="309.4" y="286.5" text-anchor="start" style="font-size:18px">20</text><text x="253.6" y="297.6" text-anchor="start" style="font-size:18px">25</text><text x="94.0" y="297.9" text-anchor="start" style="font-size:20px">Time/d</text><text x="361.6" y="307.2" text-anchor="start" style="font-size:20px">Time/h</text><text transform="translate(19.8,124.6) rotate(-90)" text-anchor="middle" style="font-size:20.3px">PV forecast error/MW</text></g></svg></body></html>
